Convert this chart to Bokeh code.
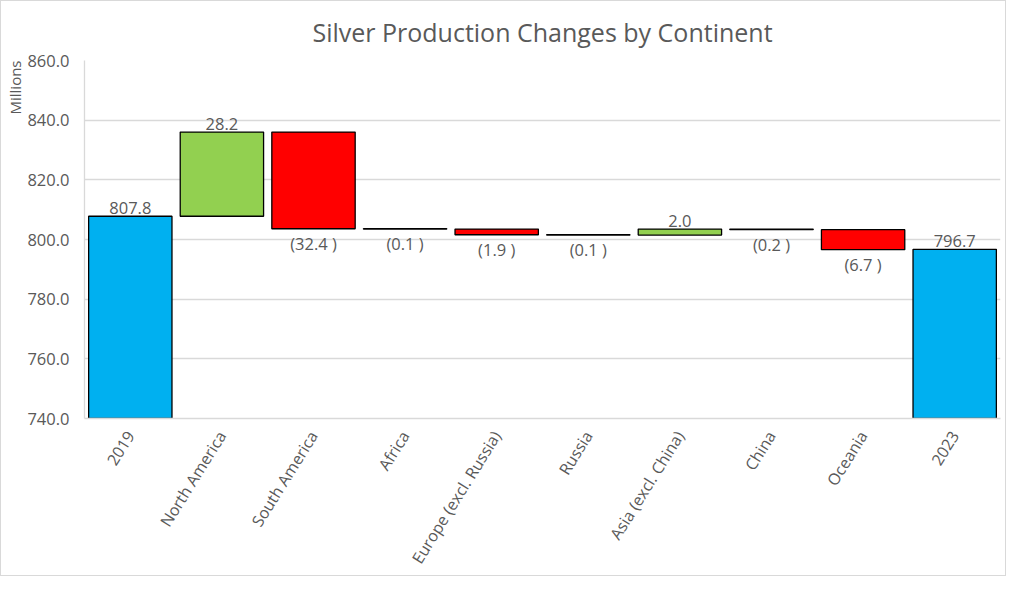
import numpy as np
from bokeh.plotting import figure
from bokeh.models import ColumnDataSource, FactorRange, Range1d, Title, NumeralTickFormatter, FixedTicker
from bokeh.core.properties import value
from bokeh.embed import file_html
from bokeh.resources import INLINE

categories = ["2019", "North America", "South America", "Africa", "Europe (excl. Russia)",
              "Russia", "Asia (excl. China)", "China", "Oceania", "2023"]
start_value = 807.8
changes = [28.2, -32.4, -0.1, -1.9, -0.1, 2.0, -0.2, -6.7]
end_value = 796.7
y_ticks = [740, 760, 780, 800, 820, 840, 860]

FONT = "Open Sans"
TXT = "#595959"

# waterfall geometry from the data
bottoms, tops, colors, labels, label_y, anchors = [], [], [], [], [], []
bottoms.append(0.0); tops.append(start_value); colors.append("#00B0F0")
labels.append(f"{start_value:.1f}"); label_y.append(start_value); anchors.append("bottom")
level = start_value
for c in changes:
    new = level + c
    bottoms.append(min(level, new)); tops.append(max(level, new))
    if c >= 0:
        colors.append("#92D050"); labels.append(f"{c:.1f}"); label_y.append(max(level, new)); anchors.append("bottom")
    else:
        colors.append("#FF0000"); labels.append(f"({abs(c):.1f} )"); label_y.append(min(level, new)); anchors.append("top")
    level = new
bottoms.append(0.0); tops.append(end_value); colors.append("#00B0F0")
labels.append(f"{end_value:.1f}"); label_y.append(end_value); anchors.append("bottom")

src = ColumnDataSource(dict(x=categories, bottom=bottoms, top=tops, color=colors))
pos = [i for i, a in enumerate(anchors) if a == "bottom"]
neg = [i for i, a in enumerate(anchors) if a == "top"]
src_pos = ColumnDataSource(dict(x=[categories[i] for i in pos], y=[label_y[i] for i in pos], t=[labels[i] for i in pos]))
src_neg = ColumnDataSource(dict(x=[categories[i] for i in neg], y=[label_y[i] for i in neg], t=[labels[i] for i in neg]))

p = figure(width=1006, height=576, x_range=FactorRange(*categories, range_padding=0),
           y_range=Range1d(740, 860), output_backend="svg", toolbar_location=None,
           min_border_left=83, min_border_right=7, min_border_top=57, min_border_bottom=159)
p.x_range.factor_padding = 0
p.styles = {"border": "1px solid #d9d9d9"}

p.title.text = "Silver Production Changes by Continent"
p.title.align = "center"
p.title.text_font = FONT
p.title.text_font_size = "25px"
p.title.text_font_style = "normal"
p.title.text_color = TXT
p.title.standoff = 23

p.add_layout(Title(text="Millions", align="right", text_font=FONT, text_font_size="15px",
                   text_font_style="normal", text_color=TXT, standoff=0), "left")

p.vbar(x="x", bottom="bottom", top="top", width=0.91, fill_color="color",
       line_color="black", line_width=1.3, source=src)

p.text(x="x", y="y", text="t", source=src_pos, text_align="center", text_baseline="bottom",
       y_offset=-2, text_font=value(FONT), text_font_size="16.5px", text_color=TXT)
p.text(x="x", y="y", text="t", source=src_neg, text_align="center", text_baseline="top",
       y_offset=3, text_font=value(FONT), text_font_size="16.5px", text_color=TXT)

p.outline_line_color = None
p.xgrid.grid_line_color = None
p.ygrid.grid_line_color = "#d9d9d9"
p.ygrid.grid_line_width = 1.3

p.yaxis.ticker = FixedTicker(ticks=y_ticks)
p.yaxis.formatter = NumeralTickFormatter(format="0.0")
for ax in (p.xaxis, p.yaxis):
    ax.axis_line_color = "#d9d9d9"
    ax.axis_line_width = 1.3
    ax.major_tick_line_color = None
    ax.minor_tick_line_color = None
    ax.major_label_text_font = FONT
    ax.major_label_text_color = TXT
p.yaxis.major_label_text_font_size = "16.5px"
p.xaxis.major_label_text_font_size = "16px"
p.yaxis.major_label_standoff = 9
p.xaxis.major_label_standoff = 8
p.xaxis.major_label_orientation = np.deg2rad(58)

open("out.html", "w").write(file_html(p, INLINE))
